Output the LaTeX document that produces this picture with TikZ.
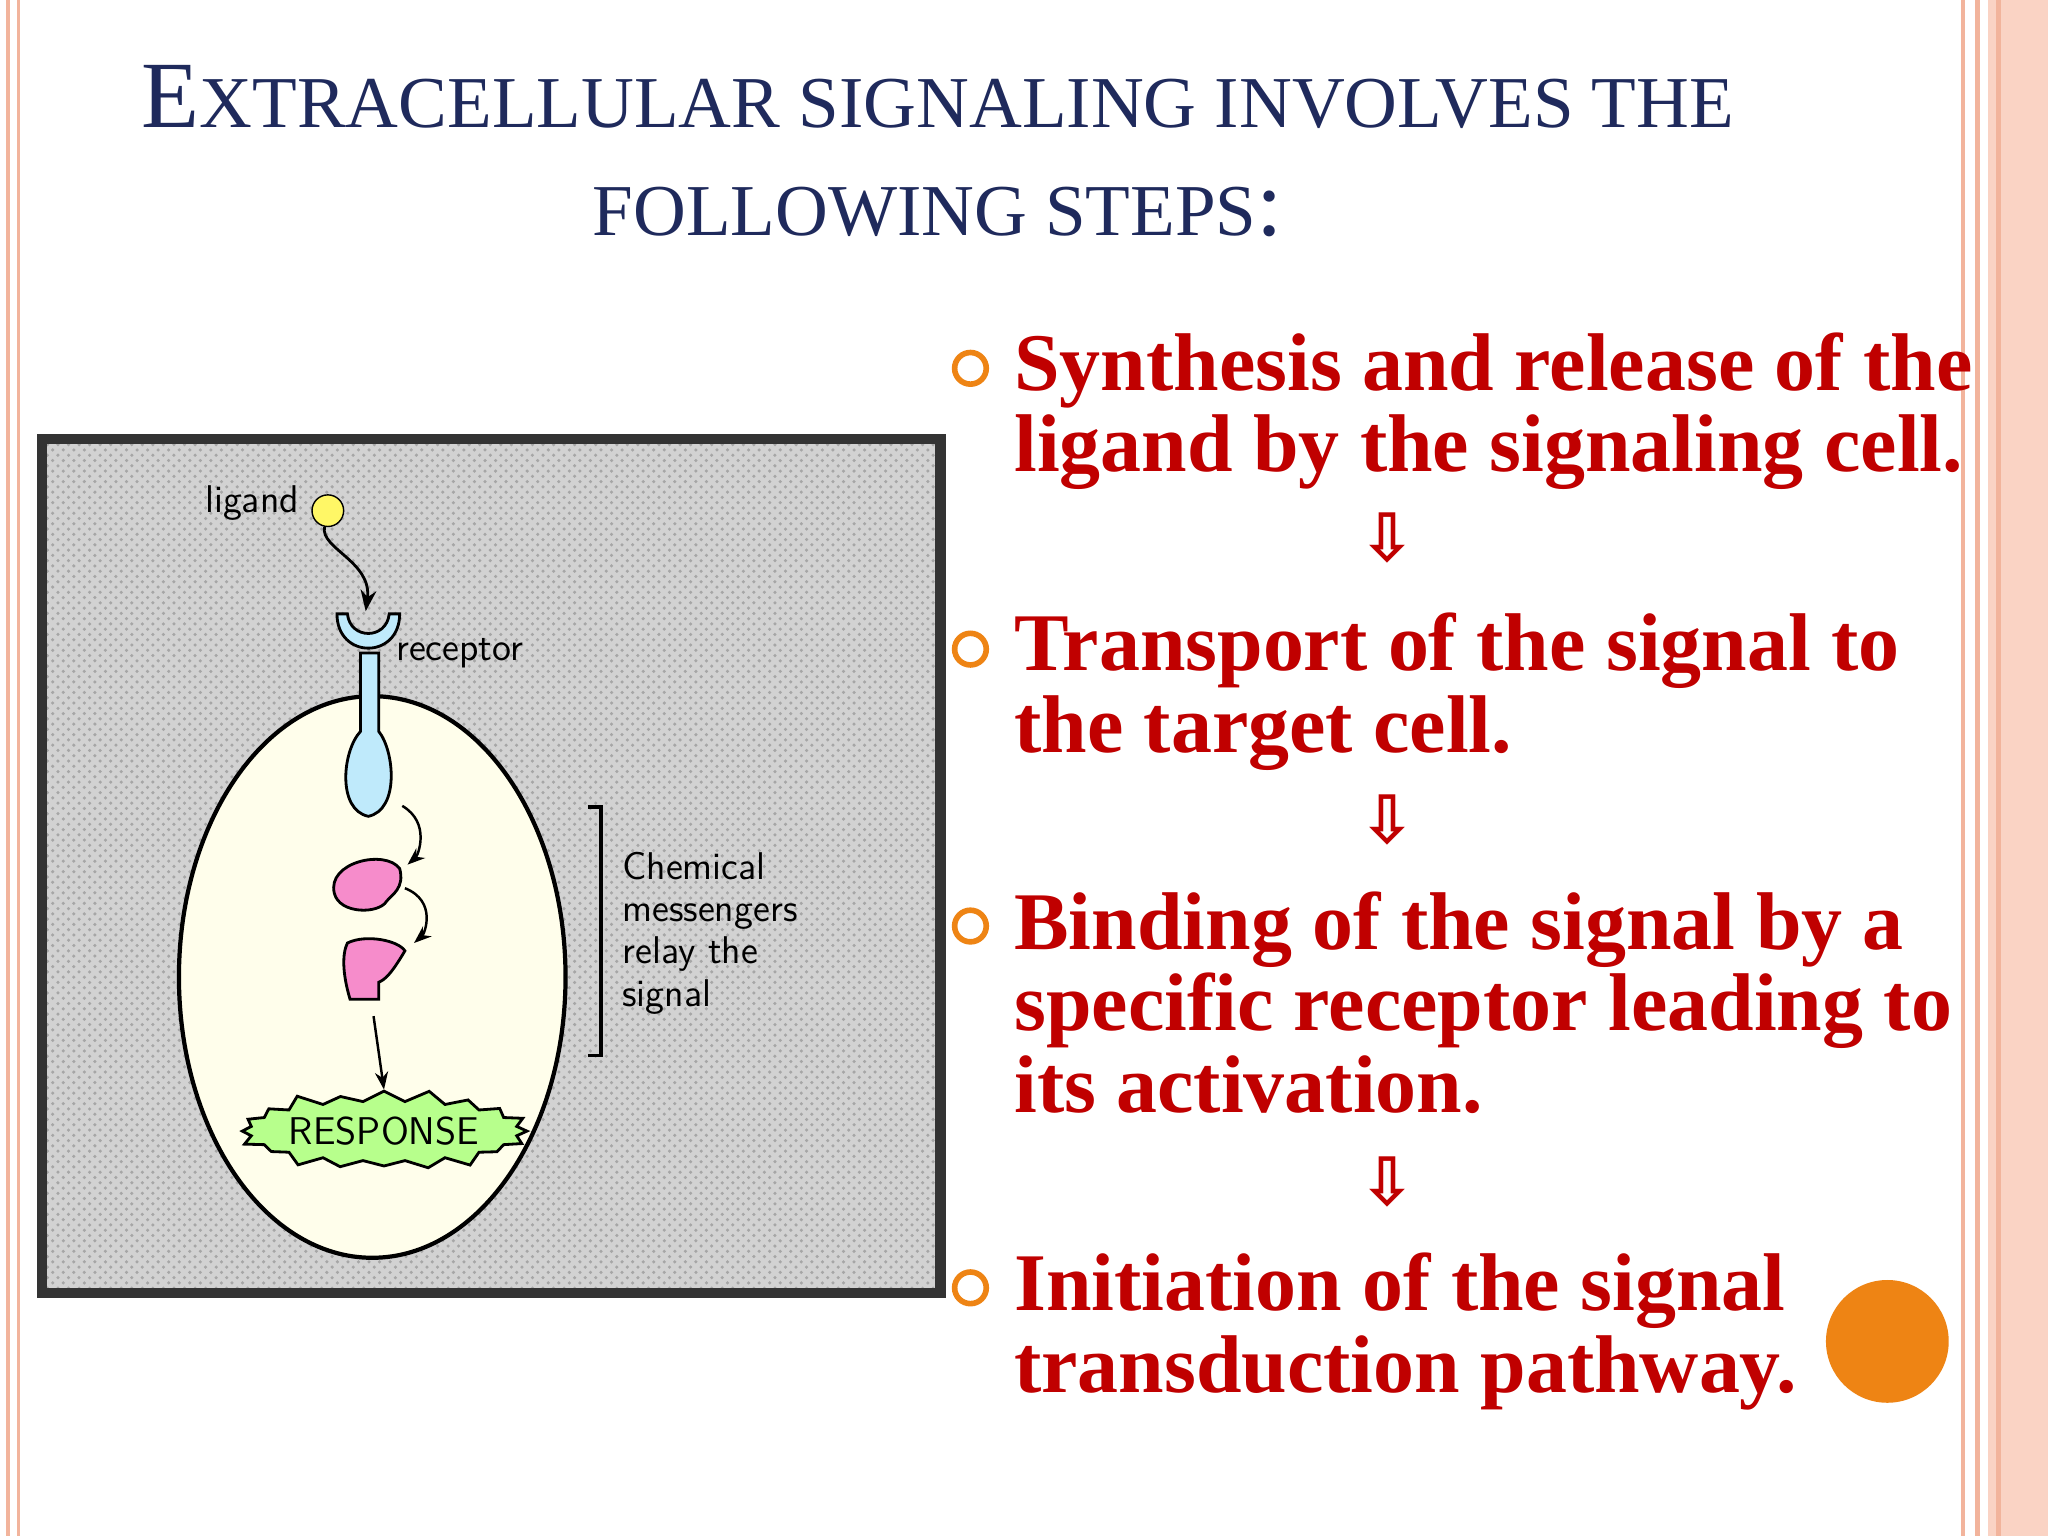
\documentclass[tikz,border=0pt]{standalone}
\usepackage{fontspec}
\setmainfont{Liberation Serif}
\newfontfamily\djv{DejaVu Sans}
\usetikzlibrary{shapes.misc,shapes.symbols,arrows.meta,patterns}
\definecolor{navy}{HTML}{1F2A5C}
\definecolor{redt}{HTML}{C00000}
\definecolor{salm}{HTML}{F2B49C}
\definecolor{salmbg}{HTML}{FAD3C4}
\definecolor{orng}{HTML}{EE8414}
\newcommand{\mysc}[1]{{\fontsize{20.8}{20.8}\selectfont #1}}
\tikzset{
 bul/.style={circle,draw=orng,line width=1.6pt,minimum size=9pt,inner sep=0pt},
 btxt/.style={anchor=north west,align=left,text=redt,font=\fontsize{23.3}{23.2}\selectfont\bfseries,inner sep=0pt},
 darr/.style={text=redt,font=\djv\bfseries\fontsize{19}{19}\selectfont},
 hand/.style={font=\sffamily\fontsize{11}{12}\selectfont,align=left,inner sep=0pt},
}
\begin{document}
\begin{tikzpicture}[x=0.01306cm,y=-0.01306cm]
\useasboundingbox (0,0) rectangle (1568,1176);
\fill[white] (0,0) rectangle (1568,1176);
% borders
\draw[salm,line width=1.2pt] (6,0)--(6,1176);
\draw[salm,line width=0.8pt] (14,0)--(14,1176);
\fill[salmbg] (1522,0) rectangle (1568,1176);
\draw[salm,line width=1.2pt] (1503,0)--(1503,1176);
\draw[salm,line width=1.2pt] (1514,0)--(1514,1176);
\draw[salm,line width=1.5pt] (1530,0)--(1530,1176);
% title
\node[text=navy,font=\fontsize{27}{27}\selectfont,anchor=base west,inner sep=0pt] (title1) at (108,98)
 {E\mysc{XTRACELLULAR SIGNALING INVOLVES THE}};
\node[text=navy,font=\fontsize{27}{27}\selectfont,anchor=base,inner sep=0pt] (title2) at (718,180)
 {\mysc{FOLLOWING STEPS}:};
% image
\fill[gray!35] (32,336) rectangle (720,990);
\fill[pattern=crosshatch dots,pattern color=gray!70] (32,336) rectangle (720,990);
\draw[black!80,line width=3pt] (32,336) rectangle (720,990);
\draw[fill=yellow!8!white,line width=1.2pt] (285,748) ellipse (148 and 215);
% receptor
\draw[fill=cyan!25,line width=0.8pt] (276,500) -- (276,560) .. controls (262,575) and (258,620) .. (282,625) .. controls (306,620) and (302,575) .. (290,560) -- (290,500) -- cycle;
\draw[fill=cyan!25,line width=0.8pt] (258,470) .. controls (258,505) and (306,505) .. (306,470) -- (298,470) .. controls (296,490) and (268,490) .. (266,470) -- cycle;
\node[hand] (recl) at (352,500) {receptor};
\node[hand] (lig) at (193,385) {ligand};
\node[circle,draw,fill=yellow!60,minimum size=9pt,inner sep=0pt] (ligc) at (251,391) {};
\draw[-{Stealth[length=6pt]},line width=0.8pt] (ligc) .. controls (245,420) and (285,430) .. (280,468);
% messengers
\draw[fill=magenta!45,line width=0.8pt] (256,684) .. controls (250,660) and (295,650) .. (306,665) .. controls (310,680) and (300,685) .. (296,690) .. controls (290,700) and (260,700) .. (256,684) -- cycle;
\draw[fill=magenta!45,line width=0.8pt] (266,722) .. controls (280,715) and (305,720) .. (310,728) .. controls (300,745) and (295,750) .. (290,752) -- (290,765) -- (268,765) .. controls (262,745) and (262,730) .. (266,722) -- cycle;
\draw[-{Stealth[length=5pt]},line width=0.7pt] (308,617) .. controls (330,630) and (320,655) .. (312,662);
\draw[-{Stealth[length=5pt]},line width=0.7pt] (310,680) .. controls (335,690) and (325,715) .. (317,722);
\node[starburst,starburst points=20,starburst point height=4pt,draw,fill=green!50!lime!45,line width=0.8pt,minimum width=57pt,minimum height=25pt,inner sep=0pt,font=\sffamily\fontsize{11}{11}\selectfont] (resp) at (294,866) {RESPONSE};
\draw[-{Stealth[length=5pt]},line width=0.7pt] (286,778) -- (resp.north);
\draw[line width=1pt] (450,618)--(460,618)--(460,808)--(450,808);
\node[hand,anchor=north west] (chem) at (476,652) {Chemical\\messengers\\relay the\\signal};
% bullets
\node[bul] (b1) at (743,282) {};
\node[bul] (b2) at (743,497) {};
\node[bul] (b3) at (743,709) {};
\node[bul] (b4) at (743,986) {};
\node[btxt] (t1) at (776,254) {Synthesis and release of the\\ligand by the signaling cell.};
\node[btxt] (t2) at (776,469) {Transport of the signal to\\the target cell.};
\node[btxt] (t3) at (776,682) {Binding of the signal by a\\specific receptor leading to\\its activation.};
\node[btxt] (t4) at (776,959) {Initiation of the signal\\transduction pathway.};
\node[darr] (a1) at (1062,412) {⇩};
\node[darr] (a2) at (1062,628) {⇩};
\node[darr] (a3) at (1062,905) {⇩};
\fill[orng] (1445,1027) circle (47);
\end{tikzpicture}
\end{document}
